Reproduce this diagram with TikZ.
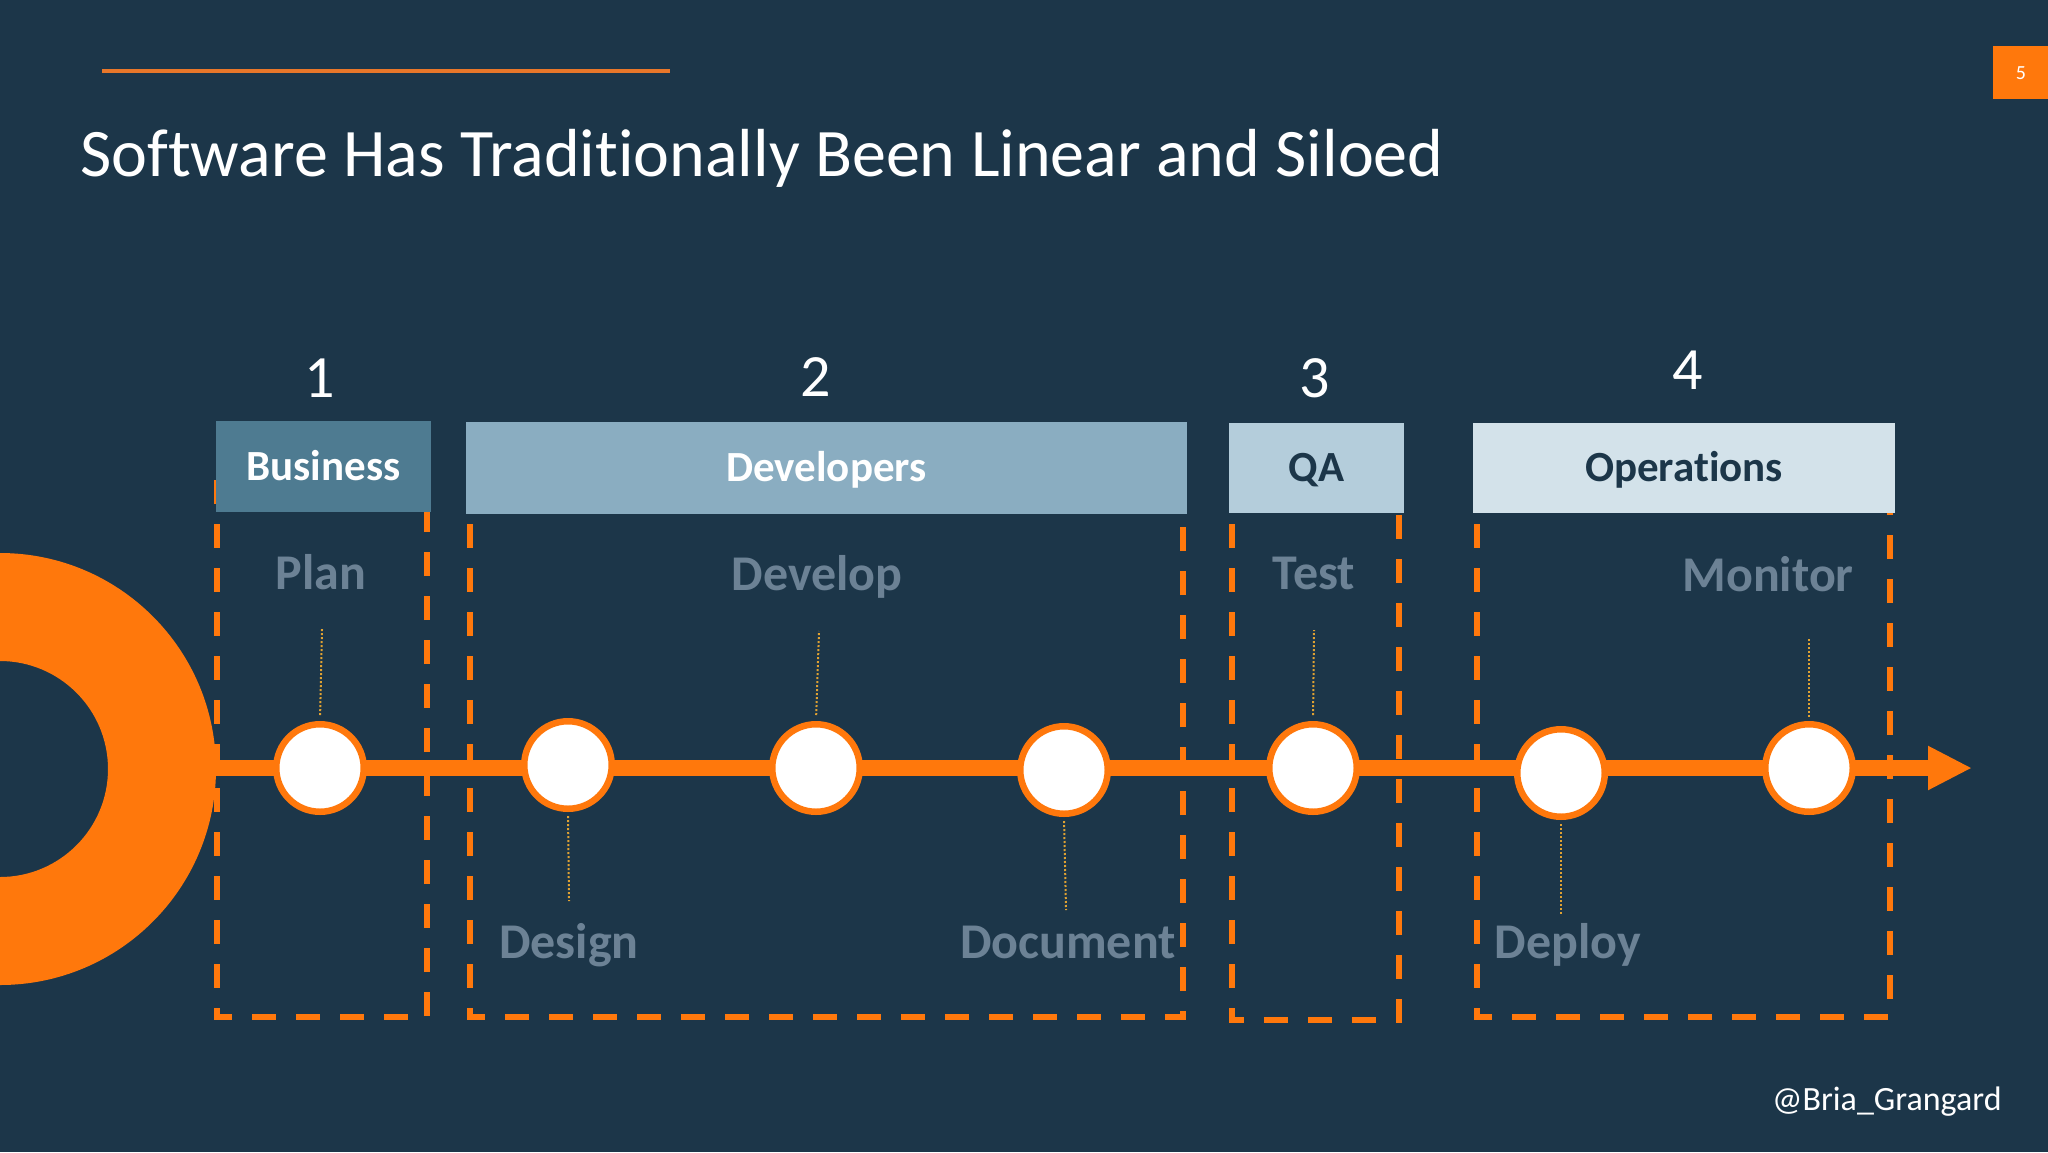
\documentclass[tikz,border=0pt]{standalone}
\usepackage{fontspec}
\setmainfont{Carlito}[Ligatures=NoCommon]
\usetikzlibrary{arrows.meta}
\definecolor{bg}{HTML}{1C3649}
\definecolor{org}{HTML}{FF780C}
\definecolor{orgline}{HTML}{E8772A}
\definecolor{hbus}{HTML}{4E7B91}
\definecolor{hdev}{HTML}{8AADC1}
\definecolor{hqa}{HTML}{B4CDDB}
\definecolor{hops}{HTML}{D3E2EA}
\definecolor{lbl}{HTML}{6C8295}
\definecolor{dotc}{HTML}{E0A232}
\tikzset{
  hdr/.style={draw=none, inner sep=0pt, text height=13.85pt, text depth=0pt, font=\fontsize{21.5}{24}\selectfont\bfseries},
  dot/.style={circle, draw=org, fill=white, line width=3.25pt, minimum size=43.75pt, inner sep=0pt},
  silo/.style={draw=org, line width=3pt, dash pattern=on 12pt off 10pt},
  dotline/.style={draw=dotc, line width=1pt, dash pattern=on 1pt off 1pt},
  lab/.style={anchor=base, text=lbl, font=\fontsize{25}{28}\selectfont\bfseries, inner sep=0pt},
  num/.style={anchor=base, text=white, font=\fontsize{30}{34}\selectfont, inner sep=0pt},
}
\begin{document}
\begin{tikzpicture}[x=0.5pt,y=-0.5pt]
\useasboundingbox (0,0) rectangle (2048,1152);
\fill[bg] (0,0) rectangle (2048,1152);
% top accent line and page number
\draw[orgline, line width=2pt] (102,71) -- (670,71);
\node[fill=org, minimum width=27.5pt, minimum height=26.5pt, inner sep=0pt, anchor=north west, text=white, font=\fontsize{10}{12}\selectfont] (pg) at (1993,46) {5};
% title
\node[anchor=base west, inner sep=0pt, text=white, font=\fontsize{34}{40}\selectfont] (title) at (80,176) {Software Has Traditionally Been Linear and Siloed};
% big ring
\fill[org, even odd rule] (0,769) circle[radius=216] (0,769) circle[radius=108];
% timeline
\coordinate (tstart) at (214,768);
\coordinate (tend) at (1972,768);
\draw[org, line width=8pt, -{Triangle[length=22pt, width=20.5pt]}] (tstart) -- (tend);
% silo dashed boxes
\draw[silo] (217,480) -- (217,1017) -- (427,1017) -- (427,480);
\draw[silo] (470,480) -- (470,1017) -- (1183,1017) -- (1183,480);
\draw[silo] (1232,480) -- (1232,1020) -- (1399,1020) -- (1399,480);
\draw[silo] (1477,480) -- (1477,1017) -- (1890,1017) -- (1890,480);
% headers
\node[hdr, fill=hbus, minimum width=107.5pt, minimum height=45.5pt, text=white] (hb) at (323.5,466.5) {Business};
\node[hdr, fill=hdev, minimum width=360.5pt, minimum height=46pt, text=white] (hd) at (826.5,467.5) {Developers};
\node[hdr, fill=hqa, minimum width=87.5pt, minimum height=45pt, text=bg] (hq) at (1316.5,468) {QA};
\node[hdr, fill=hops, minimum width=211pt, minimum height=45pt, text=bg] (ho) at (1684,468) {Operations};
% numbers
\node[num] (n1) at (320,397) {1};
\node[num] (n2) at (816,396) {2};
\node[num] (n3) at (1315,397) {3};
\node[num] (n4) at (1688,389) {4};
% milestones
\node[dot] (c1) at (320,768) {};
\node[dot] (c2) at (568,765) {};
\node[dot] (c3) at (816,768) {};
\node[dot] (c4) at (1064,770) {};
\node[dot] (c5) at (1313,768) {};
\node[dot] (c6) at (1561,773) {};
\node[dot] (c7) at (1809,768) {};
% labels
\node[lab] (l1) at (321,589) {Plan};
\node[lab] (l3) at (817,590) {Develop};
\node[lab] (l5) at (1314,589) {Test};
\node[lab] (l7) at (1768,591) {Monitor};
\node[lab] (l2) at (569,958) {Design};
\node[lab] (l4) at (1068,958) {Document};
\node[lab] (l6) at (1568,958) {Deploy};
% dotted leaders
\coordinate (e1) at (322,629);
\coordinate (e3) at (819,631);
\coordinate (e5) at (1314,630);
\coordinate (e7) at (1809,637);
\coordinate (e2) at (569,901);
\coordinate (e4) at (1066,910);
\coordinate (e6) at (1561,914);
\draw[dotline, shorten <=3pt] (c1.north) -- (e1);
\draw[dotline, shorten <=3pt] (c3.north) -- (e3);
\draw[dotline, shorten <=3pt] (c5.north) -- (e5);
\draw[dotline, shorten <=2pt] (c7.north) -- (e7);
\draw[dotline, shorten <=2pt] (c2.south) -- (e2);
\draw[dotline, shorten <=2pt] (c4.south) -- (e4);
\draw[dotline, shorten <=2pt] (c6.south) -- (e6);
% credit
\node[anchor=base east, inner sep=0pt, text=white, font=\fontsize{17}{20}\selectfont] (cr) at (2002,1110) {@Bria\_Grangard};
\end{tikzpicture}
\end{document}
